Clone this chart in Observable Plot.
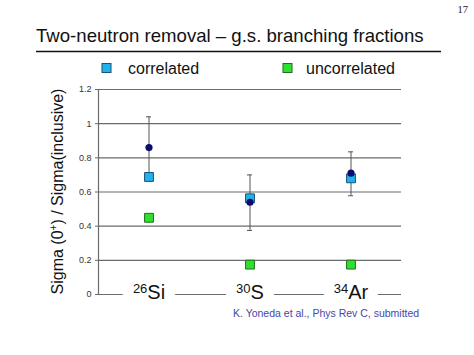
<!DOCTYPE html>
<html><head><meta charset="utf-8">
<script src="https://cdn.jsdelivr.net/npm/d3@7"></script>
<script src="https://cdn.jsdelivr.net/npm/@observablehq/plot@0.6"></script>
<style>
body{margin:0;background:#fff;}
#chart{position:absolute;left:0;top:0;}
</style></head><body>
<div id="chart"></div>
<script>
// ---- data ----
const categories = ["Si", "S", "Ar"];
const massNumbers = ["26", "30", "34"];
const measured = [0.86, 0.54, 0.71];
const errLow = [0.68, 0.375, 0.578];
const errHigh = [1.04, 0.70, 0.835];
const correlated = [0.688, 0.563, 0.68];
const uncorrelated = [0.449, 0.175, 0.175];
const yTicks = [0, 0.2, 0.4, 0.6, 0.8, 1, 1.2];
const titleText = "Two-neutron removal – g.s. branching fractions";
const yLabelParts = ["Sigma (0", "+", ") / Sigma(inclusive)"];
const legendLabels = ["correlated", "uncorrelated"];
const citation = "K. Yoneda et al., Phys Rev C, submitted";
const pageNumber = "17";

const rows = categories.map((c, i) => ({
  cat: c, mass: massNumbers[i], meas: measured[i], lo: errLow[i], hi: errHigh[i],
  corr: correlated[i], uncorr: uncorrelated[i]
}));

const cCorr = "#22b2ea", cCorrStroke = "#1d4f7c";
const cUnc = "#2fe02f", cUncStroke = "#1f6f1f";
const cMeas = "#0b0b6e";
const gridColor = "#6b6b6b";
const errColor = "#555";
const font = "'Liberation Sans', Arial, Helvetica, sans-serif";

const isoText = d => d.mass + "|" + d.cat;

const svg = Plot.plot({
  width: 474, height: 355,
  marginLeft: 98, marginRight: 73, marginTop: 89, marginBottom: 61,
  style: {fontFamily: font, fontSize: "9px", background: "white", color: "#333"},
  x: {type: "band", domain: categories, padding: 0, axis: null},
  y: {domain: [0, 1.2], axis: null},
  marks: [
    Plot.ruleY(yTicks, {stroke: gridColor, strokeWidth: 1.2}),
    Plot.frame({anchor: "left", stroke: gridColor, strokeWidth: 1.2}),
    Plot.axisY({ticks: yTicks, tickSize: 3, tickPadding: 4, label: null, tickFormat: d => String(d), stroke: gridColor, fill: "#333"}),
    Plot.ruleX(rows, {x: "cat", y1: "lo", y2: "hi", stroke: errColor, strokeWidth: 1}),
    Plot.tickY(rows, {x: "cat", y: "hi", insetLeft: 48, insetRight: 48, stroke: errColor}),
    Plot.tickY(rows, {x: "cat", y: "lo", insetLeft: 48, insetRight: 48, stroke: errColor}),
    Plot.dot(rows, {x: "cat", y: "uncorr", symbol: "square", r: 5, fill: cUnc, stroke: cUncStroke, strokeWidth: 1}),
    Plot.dot(rows, {x: "cat", y: "corr", symbol: "square", r: 5, fill: cCorr, stroke: cCorrStroke, strokeWidth: 1}),
    Plot.dot(rows, {x: "cat", y: "meas", r: 3.6, fill: cMeas}),
    Plot.text(rows, {x: "cat", y: () => 0, text: isoText, fontSize: 20, dy: -2,
      fill: "white", stroke: "white", strokeWidth: 22, className: "iso"}),
    Plot.text(rows, {x: "cat", y: () => 0, text: isoText, fontSize: 20, dy: -2,
      fill: "#111", className: "iso"})
  ]
});

// superscript mass numbers
d3.select(svg).selectAll(".iso text").each(function() {
  const [m, el] = this.textContent.split("|");
  const t = d3.select(this);
  t.text("");
  t.append("tspan").attr("font-size", 13).attr("dy", -6).text(m);
  t.append("tspan").attr("font-size", 20).attr("dy", 6).text(el);
});

const s = d3.select(svg);
// title + rule
s.append("text").attr("x", 36).attr("y", 42).attr("font-size", 18.6).attr("fill", "#111")
  .attr("text-anchor", "start").attr("font-family", font).text(titleText);
s.append("line").attr("x1", 36).attr("x2", 441).attr("y1", 51.5).attr("y2", 51.5)
  .attr("stroke", "#111").attr("stroke-width", 1.5);
s.append("text").attr("x", 468).attr("y", 13).attr("text-anchor", "end").attr("font-size", 10.5)
  .attr("font-family", "'Liberation Serif', 'Times New Roman', serif").attr("fill", "#222").text(pageNumber);

// legend
[[102, cCorr, cCorrStroke, 128], [283, cUnc, cUncStroke, 306]].forEach(([x, f, st, tx], i) => {
  s.append("rect").attr("x", x).attr("y", 63.5).attr("width", 9).attr("height", 9)
    .attr("fill", f).attr("stroke", st).attr("stroke-width", 1);
  s.append("text").attr("x", tx).attr("y", 74).attr("font-size", 16).attr("fill", "#111")
    .attr("text-anchor", "start").attr("font-family", font).text(legendLabels[i]);
});

// y label
const yl = s.append("text").attr("transform", "translate(63,191.5) rotate(-90)")
  .attr("text-anchor", "middle").attr("font-size", 16).attr("fill", "#111").attr("font-family", font);
yl.append("tspan").text(yLabelParts[0]);
yl.append("tspan").attr("font-size", 10).attr("dy", -6).text(yLabelParts[1]);
yl.append("tspan").attr("dy", 6).text(yLabelParts[2]);

// citation
s.append("text").attr("x", 233).attr("y", 317).attr("font-size", 10.5).attr("fill", "#4646a6")
  .attr("text-anchor", "start").attr("font-family", font).text(citation);

document.getElementById("chart").appendChild(svg);
</script>
</body></html>
